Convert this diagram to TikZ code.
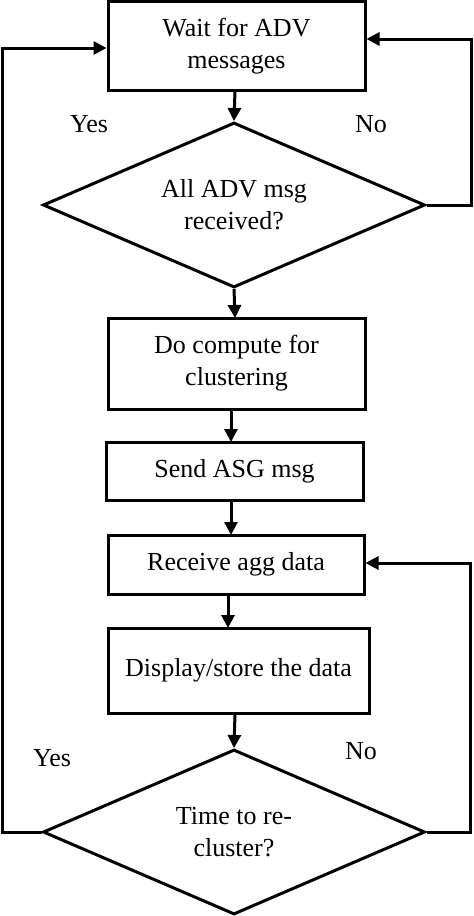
\documentclass[tikz,border=0pt]{standalone}
\usepackage{fontspec}
\setmainfont{Liberation Serif}
\usetikzlibrary{shapes.geometric,arrows.meta,calc}
\begin{document}
\begin{tikzpicture}[x=1pt,y=-1pt,
  font=\fontsize{26}{32}\selectfont,
  line width=3pt,
  procbox/.style={draw,rectangle,align=center,inner sep=0pt,line width=3pt},
  decbox/.style={draw,diamond,align=center,inner sep=0pt,aspect=2.3,minimum width=382pt,minimum height=165pt,line width=3pt},
  arr/.style={-{Triangle[length=13pt,width=13pt]},line width=3pt},
  lbl/.style={inner sep=0pt}]
\useasboundingbox (0,0) rectangle (474,916);
\node[procbox,minimum width=257pt,minimum height=89pt] (b1) at (236.5,46) {Wait for ADV\\messages};
\node[decbox] (d1) at (234,205) {All ADV msg\\received?};
\node[procbox,minimum width=257pt,minimum height=91pt] (b2) at (236.5,363.5) {Do compute for\\clustering};
\node[procbox,minimum width=257pt,minimum height=58pt] (b3) at (234.5,471) {Send ASG msg};
\node[procbox,minimum width=256pt,minimum height=59pt] (b4) at (236,564.5) {Receive agg data};
\node[procbox,minimum width=261pt,minimum height=85pt] (b5) at (238.5,670.5) {Display/store the data};
\node[decbox] (d2) at (234,832) {Time to re-\\cluster?};
\coordinate (nc1) at (471.5,39);
\coordinate (yc) at (2,48);
\coordinate (nc2) at (470,563);
\draw[arr] (235,90.5) -- (d1.north);
\draw[arr] (d1.south) -- (235,318);
\draw[arr] (231,409) -- (231,442);
\draw[arr] (231,500) -- (231,535);
\draw[arr] (228,594) -- (228,628);
\draw[arr] (235,713) -- (d2.north);
\draw[arr] (d1.east) -| (nc1) -- (b1.east |- nc1);
\draw[arr] (d2.west) -| (yc) -- (b1.west |- yc);
\draw[arr] (d2.east) -| (nc2) -- (b4.east |- nc2);
\node[lbl] (y1) at (89,124) {Yes};
\node[lbl] (n1) at (371,124) {No};
\node[lbl] (y2) at (52,758) {Yes};
\node[lbl] (n2) at (361,751) {No};
\end{tikzpicture}
\end{document}
